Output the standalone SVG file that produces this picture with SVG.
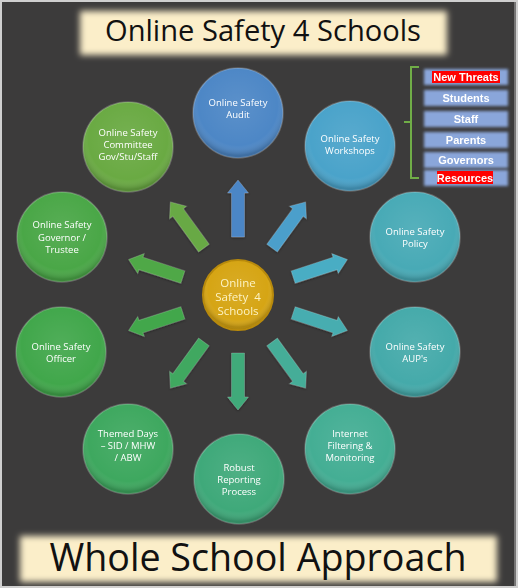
<svg xmlns="http://www.w3.org/2000/svg" xmlns:xlink="http://www.w3.org/1999/xlink" width="519" height="588" viewBox="0 0 519 588">
<style>
.nt{font-family:"Open Sans","Liberation Sans",sans-serif;font-size:9.5px;fill:#ffffff;text-anchor:middle}
.ct{font-family:"Open Sans","Liberation Sans",sans-serif;font-size:11.5px;fill:#fdf3c4;text-anchor:middle}
.lt{font-family:"Liberation Sans","Open Sans",sans-serif;font-size:11px;font-weight:bold;fill:#ffffff;text-anchor:middle}
.tt{font-family:"Open Sans","Liberation Sans",sans-serif;fill:#111111;text-anchor:middle}
.rim{stroke:#ffffff;stroke-opacity:0.22;stroke-width:1.5}
.sh{fill:url(#shade)}
.ar{stroke:#ffffff;stroke-opacity:0.18;stroke-width:1}
.lb{fill:#8aa6da;filter:url(#soft)}
</style>
<defs>
<radialGradient id="shade" cx="50%" cy="42%" r="55%">
<stop offset="0" stop-color="#ffffff" stop-opacity="0.08"/>
<stop offset="0.8" stop-color="#ffffff" stop-opacity="0"/>
<stop offset="1" stop-color="#000000" stop-opacity="0.18"/>
</radialGradient>
<filter id="glow" x="-10%" y="-40%" width="120%" height="180%"><feGaussianBlur stdDeviation="3"/></filter>
<filter id="soft" x="-10%" y="-50%" width="120%" height="200%"><feGaussianBlur stdDeviation="1.8"/></filter>
<filter id="ds" x="-20%" y="-20%" width="140%" height="140%"><feDropShadow dx="0" dy="1" stdDeviation="1.2" flood-color="#000" flood-opacity="0.4"/></filter>
<path id="arrow" d="M58,-6.5 L102,-6.5 L102,-10.5 L115,0 L102,10.5 L102,6.5 L58,6.5 Z"/>
</defs>
<rect x="1" y="1" width="516" height="586" fill="#3c3b3b" stroke="#cfcfcf" stroke-width="2"/>
<line x1="515" y1="2" x2="515" y2="586" stroke="#8a8a8a" stroke-width="1.5"/>

<g id="title">
<rect x="80" y="11" width="367" height="44" fill="#fbeec9" filter="url(#glow)"/>
<text class="tt" x="263" y="41" font-size="29" textLength="316" lengthAdjust="spacingAndGlyphs">Online Safety 4 Schools</text>
</g>

<g id="footer">
<rect x="20" y="536" width="477" height="46" fill="#fbeec9" filter="url(#glow)"/>
<text class="tt" x="258" y="571" font-size="38" textLength="417" lengthAdjust="spacingAndGlyphs">Whole School Approach</text>
</g>

<g id="connectors" filter="url(#ds)">
<use xlink:href="#arrow" class="ar" fill="#4c86c6" transform="translate(238 295) rotate(-90)"/>
<use xlink:href="#arrow" class="ar" fill="#4b9fcb" transform="translate(238 295) rotate(-54)"/>
<use xlink:href="#arrow" class="ar" fill="#4aadc4" transform="translate(238 295) rotate(-18)"/>
<use xlink:href="#arrow" class="ar" fill="#46adb0" transform="translate(238 295) rotate(18)"/>
<use xlink:href="#arrow" class="ar" fill="#44ad98" transform="translate(238 295) rotate(54)"/>
<use xlink:href="#arrow" class="ar" fill="#3faa7a" transform="translate(238 295) rotate(90)"/>
<use xlink:href="#arrow" class="ar" fill="#3fa860" transform="translate(238 295) rotate(126)"/>
<use xlink:href="#arrow" class="ar" fill="#42a74c" transform="translate(238 295) rotate(162)"/>
<use xlink:href="#arrow" class="ar" fill="#50a847" transform="translate(238 295) rotate(198)"/>
<use xlink:href="#arrow" class="ar" fill="#68a945" transform="translate(238 295) rotate(234)"/>
</g>

<g id="center">
<circle cx="238" cy="295" r="35" fill="#d6a514" stroke="#b88a0c" stroke-width="2"/>
<circle cx="238" cy="295" r="34" class="sh"/>
<text class="ct" x="238" y="287">Online</text>
<text class="ct" x="238" y="301" xml:space="preserve">Safety  4</text>
<text class="ct" x="238" y="315">Schools</text>
</g>

<g id="audit">
<circle cx="238" cy="113" r="45" fill="#4d87c6" class="rim"/>
<circle cx="238" cy="113" r="45" class="sh"/>
<text class="nt" x="238" y="106">Online Safety</text>
<text class="nt" x="238" y="118">Audit</text>
</g>

<g id="workshops">
<circle cx="350" cy="146" r="45" fill="#4aa3ca" class="rim"/>
<circle cx="350" cy="146" r="45" class="sh"/>
<text class="nt" x="350" y="142">Online Safety</text>
<text class="nt" x="350" y="154">Workshops</text>
</g>

<g id="policy">
<circle cx="415" cy="237" r="45" fill="#48aab6" class="rim"/>
<circle cx="415" cy="237" r="45" class="sh"/>
<text class="nt" x="415" y="235">Online Safety</text>
<text class="nt" x="415" y="247">Policy</text>
</g>

<g id="aups">
<circle cx="415" cy="352" r="45" fill="#45aaaa" class="rim"/>
<circle cx="415" cy="352" r="45" class="sh"/>
<text class="nt" x="415" y="350">Online Safety</text>
<text class="nt" x="415" y="362">AUP's</text>
</g>

<g id="filtering">
<circle cx="350" cy="449" r="45" fill="#44ae94" class="rim"/>
<circle cx="350" cy="449" r="45" class="sh"/>
<text class="nt" x="350" y="437">Internet</text>
<text class="nt" x="350" y="449">Filtering &amp;</text>
<text class="nt" x="350" y="461">Monitoring</text>
</g>

<g id="reporting">
<circle cx="239" cy="479" r="45" fill="#3fa97a" class="rim"/>
<circle cx="239" cy="479" r="45" class="sh"/>
<text class="nt" x="239" y="471">Robust</text>
<text class="nt" x="239" y="483">Reporting</text>
<text class="nt" x="239" y="495">Process</text>
</g>

<g id="themed">
<circle cx="128" cy="449" r="45" fill="#3ea85f" class="rim"/>
<circle cx="128" cy="449" r="45" class="sh"/>
<text class="nt" x="128" y="437">Themed Days</text>
<text class="nt" x="128" y="449">– SID / MHW</text>
<text class="nt" x="128" y="461">/ ABW</text>
</g>

<g id="officer">
<circle cx="61" cy="352" r="45" fill="#41a74b" class="rim"/>
<circle cx="61" cy="352" r="45" class="sh"/>
<text class="nt" x="61" y="350">Online Safety</text>
<text class="nt" x="61" y="362">Officer</text>
</g>

<g id="governor">
<circle cx="62" cy="237" r="45" fill="#4aa747" class="rim"/>
<circle cx="62" cy="237" r="45" class="sh"/>
<text class="nt" x="62" y="228">Online Safety</text>
<text class="nt" x="62" y="241">Governor /</text>
<text class="nt" x="62" y="253">Trustee</text>
</g>

<g id="committee">
<circle cx="128" cy="147" r="45" fill="#6aaa43" class="rim"/>
<circle cx="128" cy="147" r="45" class="sh"/>
<text class="nt" x="128" y="136">Online Safety</text>
<text class="nt" x="128" y="148">Committee</text>
<text class="nt" x="128" y="160">Gov/Stu/Staff</text>
</g>

<g id="workshop-list">
<path d="M419,67 L411,67 L411,178 L419,178 M411,122 L404,122" fill="none" stroke="#70ad47" stroke-width="2"/>
<rect class="lb" x="424" y="69" width="84" height="16"/>
<rect class="lb" x="424" y="90" width="84" height="16"/>
<rect class="lb" x="424" y="111" width="84" height="16"/>
<rect class="lb" x="424" y="132" width="84" height="16"/>
<rect class="lb" x="424" y="152" width="84" height="16"/>
<rect class="lb" x="424" y="170" width="84" height="16"/>
<rect x="432" y="71" width="68" height="12" fill="#ff0000"/>
<rect x="437" y="171" width="56" height="13" fill="#ff0000"/>
<text class="lt" x="466" y="81">New Threats</text>
<text class="lt" x="466" y="102">Students</text>
<text class="lt" x="466" y="123">Staff</text>
<text class="lt" x="466" y="144">Parents</text>
<text class="lt" x="466" y="164">Governors</text>
<text class="lt" x="465" y="182">Resources</text>
</g>
</svg>
